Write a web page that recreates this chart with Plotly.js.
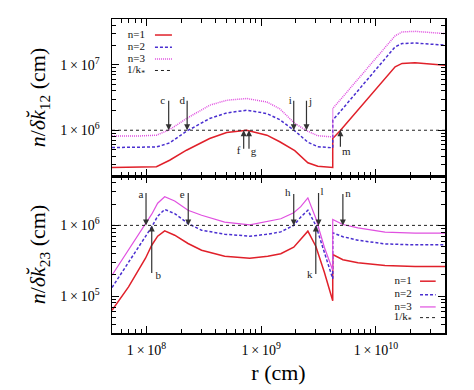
<!DOCTYPE html>
<html>
<head>
<meta charset="utf-8">
<script src="https://cdn.plot.ly/plotly-3.0.1.min.js"></script>
<style>html,body{margin:0;padding:0;background:#fff;}#plot{width:474px;height:390px;}</style>
</head>
<body>
<div id="plot"></div>
<script>
// ---------- data ----------
// top panel: n / delta k_12
const rTop = [5e7, 8.7e7, 1.22e8, 1.59e8, 2.23e8, 3.55e8, 5.0e8, 7.47e8, 1.12e9, 1.45e9, 1.96e9, 2.55e9, 3.11e9, 4.2e9, 4.2e9, 4.85e9, 6.97e9, 1.2e10, 1.47e10, 1.69e10, 2.19e10, 4.0e10];
const top_n1 = [2.7e5, 2.7e5, 2.77e5, 3.48e5, 4.95e5, 7.47e5, 9.2e5, 1.0e6, 8.4e5, 6.67e5, 4.87e5, 3.19e5, 2.82e5, 2.7e5, 7.47e5, 9.75e5, 2.06e6, 6.31e6, 9.3e6, 1.05e7, 1.07e7, 9.8e6];
const top_n2 = [5.45e5, 5.45e5, 5.55e5, 6.4e5, 9.65e5, 1.51e6, 1.84e6, 2.02e6, 1.8e6, 1.45e6, 9.8e5, 6.56e5, 5.6e5, 5.4e5, 1.42e6, 1.9e6, 3.98e6, 1.21e7, 1.88e7, 2.11e7, 2.15e7, 1.99e7];
const top_n3 = [8.18e5, 8.18e5, 8.4e5, 1.02e6, 1.51e6, 2.41e6, 2.87e6, 3.05e6, 2.7e6, 2.13e6, 1.27e6, 9.65e5, 8.24e5, 7.9e5, 2.14e6, 2.87e6, 6.01e6, 1.82e7, 2.77e7, 3.17e7, 3.24e7, 2.99e7];
// bottom panel: n / delta k_23
const rBot = [5e7, 6.97e7, 9.8e7, 1.11e8, 1.25e8, 1.44e8, 1.76e8, 2.3e8, 3.02e8, 4.8e8, 7.94e8, 1.14e9, 1.48e9, 1.92e9, 2.21e9, 2.55e9, 2.99e9, 3.55e9, 4.2e9, 4.2e9, 5.15e9, 6.97e9, 1.2e10, 2.19e10, 4.0e10];
const bot_n1 = [6.3e4, 1.35e5, 3.43e5, 5.24e5, 7.03e5, 8.36e5, 7.26e5, 5.54e5, 4.45e5, 3.66e5, 3.43e5, 3.66e5, 3.97e5, 4.91e5, 6.38e5, 8.28e5, 5.07e5, 2.17e5, 8.58e4, 3.87e5, 3.27e5, 2.96e5, 2.7e5, 2.62e5, 2.62e5];
const bot_n2 = [1.32e5, 3.04e5, 7.03e5, 9.5e5, 1.35e6, 1.68e6, 1.47e6, 1.06e6, 8.55e5, 7.5e5, 7.03e5, 7.5e5, 8.09e5, 1.0e6, 1.31e6, 1.64e6, 1.0e6, 4.31e5, 1.76e5, 7.83e5, 6.92e5, 6.17e5, 5.47e5, 5.3e5, 5.3e5];
const bot_n3 = [1.97e5, 4.45e5, 1.04e6, 1.44e6, 2.06e6, 2.54e6, 2.22e6, 1.64e6, 1.39e6, 1.11e6, 1.02e6, 1.15e6, 1.24e6, 1.51e6, 1.84e6, 2.45e6, 1.26e6, 4.91e5, 2.32e5, 1.21e6, 1.03e6, 9.22e5, 8.01e5, 7.76e5, 7.76e5];
// 1/k_*
const rStar = [5e7, 4e10];
const kStar = [1e6, 1e6];
// crossing markers
const topMarkNames = ['c', 'd', 'f', 'g', 'i', 'j', 'm'];
const topMarkR = [1.56e8, 2.26e8, 7.03e8, 7.82e8, 1.92e9, 2.48e9, 4.9e9];
const botMarkNames = ['a', 'b', 'e', 'h', 'k', 'l', 'n'];
const botMarkR = [9.9e7, 1.11e8, 2.31e8, 1.92e9, 2.99e9, 3.16e9, 5.15e9];
// tick labels
const xTickVals = [1e8, 1e9, 1e10];
const xTickText = ['1\u2009×\u200910<sup>8</sup>', '1\u2009×\u200910<sup>9</sup>', '1\u2009×\u200910<sup>10</sup>'];
const yTopTickVals = [1e6, 1e7];
const yTopTickText = ['1\u2009×\u200910<sup>6</sup>', '1\u2009×\u200910<sup>7</sup>'];
const yBotTickVals = [1e5, 1e6];
const yBotTickText = ['1\u2009×\u200910<sup>5</sup>', '1\u2009×\u200910<sup>6</sup>'];
const seriesNames = ['n=1', 'n=2', 'n=3', '1/k<sub>*</sub>'];

// ---------- geometry & styles ----------
const W = 474, H = 390, ML = 112, MR = 29, MT = 19, MB = 57;
const plotW = W - ML - MR, panelH = (H - MT - MB) / 2;
const xr = [Math.log10(5e7), Math.log10(4e10)];
const yrTop = [Math.log10(2e5), Math.log10(5e7)];
const yrBot = [Math.log10(3e4), Math.log10(5e6)];
const pxX = plotW / (xr[1] - xr[0]);
const pxTop = panelH / (yrTop[1] - yrTop[0]);
const pxBot = panelH / (yrBot[1] - yrBot[0]);

const FONT = 'Liberation Serif, Times New Roman, serif';
const SMALL = 11;
const RED = '#e0202a', BLUE = '#4a2fd0', MAG = '#e050e0', BLK = '#222';
const styTop = [
  {color: RED, width: 1.5, dash: 'solid'},
  {color: BLUE, width: 1.5, dash: '3px,2px'},
  {color: MAG, width: 1.5, dash: '1px,1px'},
  {color: BLK, width: 1, dash: '3px,3px'}
];
const styBot = [
  {color: RED, width: 1.5, dash: 'solid'},
  {color: BLUE, width: 1.5, dash: '3px,2px'},
  {color: MAG, width: 1.2, dash: 'solid'},
  {color: BLK, width: 1, dash: '3px,3px'}
];
// arrow tails (px from head) and label offsets (px from head, +y = up)
const topMarkStyle = {
  c: {ay: -31, lx: -6, ly: 29}, d: {ay: -31, lx: -5, ly: 29},
  f: {ay: 20, lx: -5, ly: -21}, g: {ay: 20, lx: 4.5, ly: -22},
  i: {ay: -31, lx: -3.5, ly: 29}, j: {ay: -31, lx: 4, ly: 28},
  m: {ay: 18, lx: 6, ly: -22}
};
const botMarkStyle = {
  a: {ay: -34, lx: -5, ly: 30}, b: {ay: 49, lx: 6.5, ly: -51},
  e: {ay: -34, lx: -6, ly: 30}, h: {ay: -33, lx: -6, ly: 32},
  k: {ay: 50, lx: -6, ly: -50}, l: {ay: -34, lx: 3.5, ly: 33},
  n: {ay: -33, lx: 5, ly: 31}
};

const topSeries = [top_n1, top_n2, top_n3];
const botSeries = [bot_n1, bot_n2, bot_n3];
const traces = [];
topSeries.forEach((s, i) => traces.push({x: rTop, y: s, xaxis: 'x2', yaxis: 'y2', mode: 'lines', name: seriesNames[i], line: styTop[i], showlegend: false}));
traces.push({x: rStar, y: kStar, xaxis: 'x2', yaxis: 'y2', mode: 'lines', name: seriesNames[3], line: styTop[3], showlegend: false});
botSeries.forEach((s, i) => traces.push({x: rBot, y: s, xaxis: 'x', yaxis: 'y', mode: 'lines', name: seriesNames[i], line: styBot[i], showlegend: false}));
traces.push({x: rStar, y: kStar, xaxis: 'x', yaxis: 'y', mode: 'lines', name: seriesNames[3], line: styBot[3], showlegend: false});

const annotations = [];
function addMarks(names, rs, sty, xa, ya, pxY) {
  const lx = [], ly = [];
  names.forEach((nm, i) => {
    const st = sty[nm];
    const xv = Math.log10(rs[i]);
    const yv = Math.log10(kStar[0]);
    annotations.push({x: xv, y: yv, xref: xa, yref: ya, text: '', showarrow: true, ax: 0, ay: st.ay,
      arrowhead: 2, arrowsize: 1, arrowwidth: 1.2, arrowcolor: '#333', standoff: 0, startstandoff: 0});
    lx.push(Math.pow(10, xv + st.lx / pxX));
    ly.push(Math.pow(10, yv + st.ly / pxY));
  });
  traces.push({x: lx, y: ly, xaxis: xa, yaxis: ya, mode: 'text', text: names, textposition: 'middle center',
    textfont: {family: FONT, size: SMALL, color: '#222'}, showlegend: false, hoverinfo: 'skip', cliponaxis: false});
}
addMarks(topMarkNames, topMarkR, topMarkStyle, 'x2', 'y2', pxTop);
addMarks(botMarkNames, botMarkR, botMarkStyle, 'x', 'y', pxBot);

// legends (gnuplot style: text left, sample right); positions as fractions of each panel
const shapes = [];
function addLegend(textFx, lineFx0, lineFx1, rowsFy, sty, xa, ya, yr, panelBase) {
  const tx = [], ty = [];
  seriesNames.forEach((nm, i) => {
    tx.push(Math.pow(10, xr[0] + textFx * (xr[1] - xr[0])));
    ty.push(Math.pow(10, yr[0] + rowsFy[i] * (yr[1] - yr[0])));
    const py = panelBase + rowsFy[i] * 0.5;
    shapes.push({type: 'line', xref: 'paper', yref: 'paper', x0: lineFx0, x1: lineFx1, y0: py, y1: py,
      line: {color: sty[i].color, width: sty[i].width, dash: sty[i].dash}});
  });
  traces.push({x: tx, y: ty, xaxis: xa, yaxis: ya, mode: 'text', text: seriesNames, textposition: 'middle left',
    textfont: {family: FONT, size: SMALL, color: '#111'}, showlegend: false, hoverinfo: 'skip', cliponaxis: false});
}
addLegend(0.099, 0.129, 0.180, [0.898, 0.820, 0.746, 0.672], styTop, 'x2', 'y2', yrTop, 0.5);
addLegend(0.900, 0.925, 0.972, [0.330, 0.244, 0.166, 0.098], styBot, 'x', 'y', yrBot, 0);

const axFont = {family: FONT, size: 14, color: '#000'};
const common = {type: 'log', showline: true, linecolor: '#000', linewidth: 1.5, mirror: 'allticks',
  ticks: 'inside', ticklen: 7, tickwidth: 1, tickcolor: '#000', showgrid: false, zeroline: false,
  tickmode: 'array', tickfont: axFont,
  minor: {ticks: 'inside', ticklen: 4, tickwidth: 1, tickcolor: '#000', dtick: 'D1', showgrid: false}};

const layout = {
  width: W, height: H,
  margin: {l: ML, r: MR, t: MT, b: MB},
  paper_bgcolor: '#fff', plot_bgcolor: '#fff',
  font: {family: FONT, size: SMALL, color: '#000'},
  showlegend: false,
  xaxis: Object.assign({}, common, {domain: [0, 1], anchor: 'y', range: xr, tickvals: xTickVals, ticktext: xTickText,
    ticklabelstandoff: 4,
    title: {text: 'r (cm)', font: {family: FONT, size: 22, color: '#000'}, standoff: 7}}),
  xaxis2: Object.assign({}, common, {domain: [0, 1], anchor: 'y2', range: xr, tickvals: xTickVals, ticktext: xTickText,
    showticklabels: false, matches: 'x'}),
  yaxis: Object.assign({}, common, {domain: [0, 0.5], anchor: 'x', range: yrBot,
    tickvals: yBotTickVals, ticktext: yBotTickText, ticklabelstandoff: 8,
    title: {text: '<i>n</i>/<i>δk\u0306</i><sub>23</sub> (cm)', font: {family: FONT, size: 22, color: '#000'}, standoff: 8}}),
  yaxis2: Object.assign({}, common, {domain: [0.5, 1], anchor: 'x2', range: yrTop,
    tickvals: yTopTickVals, ticktext: yTopTickText, ticklabelstandoff: 8,
    title: {text: '<i>n</i>/<i>δk\u0306</i><sub>12</sub> (cm)', font: {family: FONT, size: 22, color: '#000'}, standoff: 8}}),
  annotations: annotations,
  shapes: shapes
};

Plotly.newPlot('plot', traces, layout, {displayModeBar: false, staticPlot: true});
</script>
</body>
</html>
